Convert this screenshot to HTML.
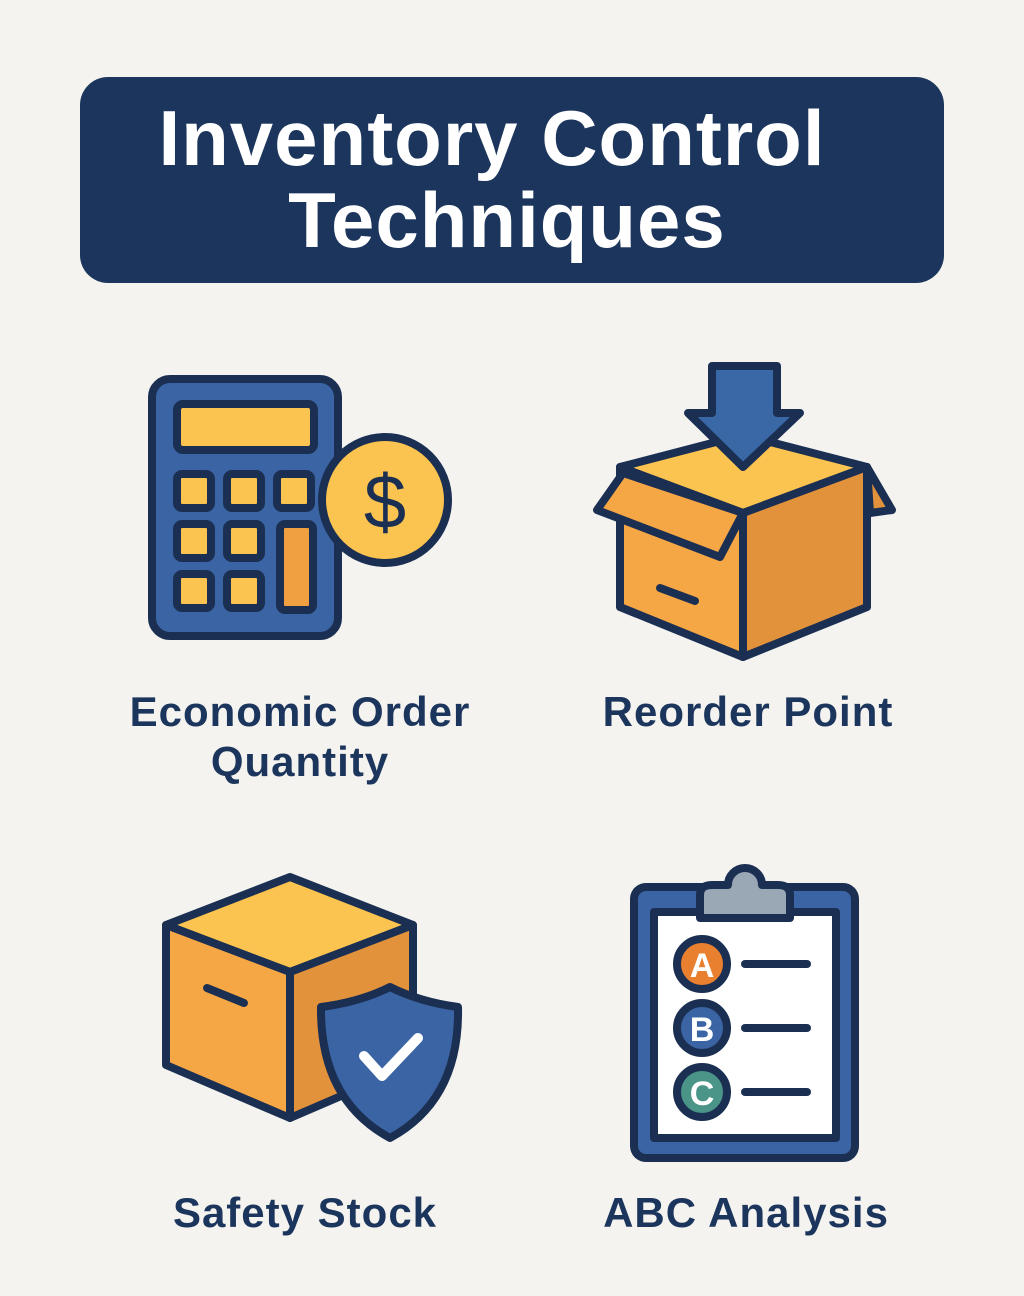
<!DOCTYPE html>
<html><head><meta charset="utf-8"><style>
body{margin:0;width:1024px;height:1296px;background:#f4f3ef;overflow:hidden;font-family:"Liberation Sans",sans-serif;}
.t{position:absolute;color:#1b355c;font-size:42px;font-weight:bold;text-align:center;width:500px;line-height:50px;letter-spacing:1px}
</style></head><body>
<div style="position:absolute;left:80px;top:77px;width:864px;height:206px;background:#1b355c;border-radius:28px"></div>
<div style="position:absolute;left:80px;top:97px;width:824px;text-align:center;color:#fff;font-weight:bold;font-size:78px;line-height:82px;letter-spacing:1px">Inventory Control<br><span style="margin-left:30px">Techniques</span></div>
<div class="t" style="left:50px;top:687px">Economic Order<br>Quantity</div>
<div class="t" style="left:498px;top:687px">Reorder Point</div>
<div class="t" style="left:55px;top:1188px">Safety Stock</div>
<div class="t" style="left:496px;top:1188px">ABC Analysis</div>
<svg width="1024" height="1296" style="position:absolute;left:0;top:0" stroke="#1b2f52" stroke-width="8" stroke-linejoin="round" stroke-linecap="round">
<rect x="152" y="379" width="186" height="257" rx="18" fill="#3a64a3"/>
<rect x="177" y="404" width="137" height="46" rx="6" fill="#fbc34f"/>
<g fill="#fbc34f">
<rect x="177" y="474" width="34" height="34" rx="5"/><rect x="227" y="474" width="34" height="34" rx="5"/><rect x="277" y="474" width="34" height="34" rx="5"/>
<rect x="177" y="524" width="34" height="34" rx="5"/><rect x="227" y="524" width="34" height="34" rx="5"/>
<rect x="177" y="574" width="34" height="34" rx="5"/><rect x="227" y="574" width="34" height="34" rx="5"/>
</g>
<rect x="280" y="524" width="33" height="86" rx="5" fill="#f0a040"/>
<circle cx="385" cy="500" r="63" fill="#fbc34f"/>
<text x="385" y="528" font-size="76" text-anchor="middle" fill="#1b2f52" stroke="none" font-family="Liberation Sans">$</text>
<polygon points="620,467 743,435 867,467 743,513" fill="#fbc34f"/>
<polygon points="620,467 743,513 743,657 620,607" fill="#f5a645"/>
<polygon points="743,513 867,467 867,607 743,657" fill="#e3923c"/>
<polygon points="623,473 597,510 720,557 743,513" fill="#f5a645"/>
<polygon points="867,467 892,510 870,513" fill="#e3923c"/>
<line x1="660" y1="588" x2="695" y2="601"/>
<polygon points="712,366 777,366 777,413 800,413 743,467 688,413 712,413" fill="#3a68a6"/>
<polygon points="166,925 290,877 413,925 290,972" fill="#fbc34f"/>
<polygon points="166,925 290,972 290,1118 166,1065" fill="#f5a645"/>
<polygon points="290,972 413,925 413,1065 290,1118" fill="#e3923c"/>
<line x1="207" y1="988" x2="244" y2="1003"/>
<path d="M321,1007 Q360,1002 390,987 Q420,1002 458,1007 Q460,1100 390,1138 Q320,1100 321,1007 Z" fill="#3a64a3"/>
<polyline points="364,1056 382,1076 418,1038" fill="none" stroke="#fff" stroke-width="10"/>
<rect x="634" y="887" width="221" height="271" rx="12" fill="#3a64a3"/>
<rect x="654" y="912" width="182" height="226" fill="#fff"/>
<path d="M700,918 V895 Q700,885 712,885 H728 A17,17 0 0 1 762,885 H778 Q790,885 790,895 V918 Z" fill="#9aa7b4"/>
<circle cx="702" cy="964" r="25" fill="#e8802f"/>
<circle cx="702" cy="1028" r="25" fill="#3a64a3"/>
<circle cx="702" cy="1092" r="25" fill="#4a9488"/>
<g fill="#fff" stroke="none" font-size="34" font-weight="bold" text-anchor="middle" font-family="Liberation Sans">
<text x="702" y="977">A</text><text x="702" y="1041">B</text><text x="702" y="1105">C</text></g>
<line x1="745" y1="964" x2="807" y2="964"/><line x1="745" y1="1028" x2="807" y2="1028"/><line x1="745" y1="1092" x2="807" y2="1092"/>
</svg>
</body></html>
